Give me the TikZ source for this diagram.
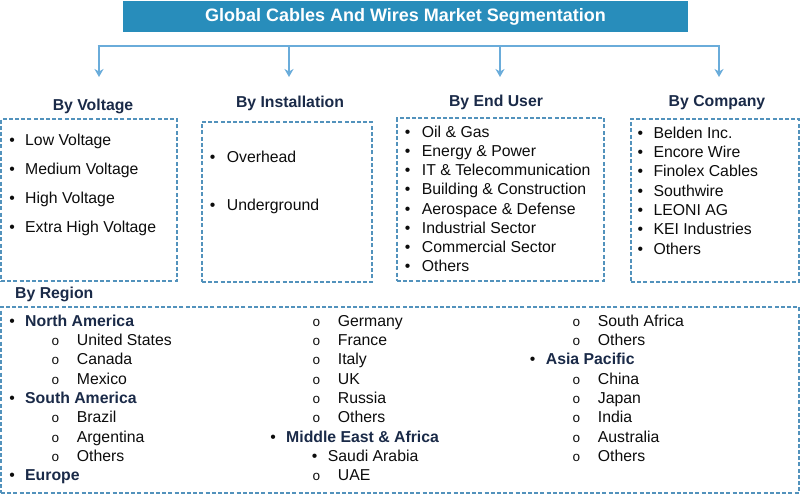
\documentclass[tikz,border=0pt]{standalone}
\usepackage{fontspec}
\setmainfont{Liberation Sans}
\newfontfamily\ringfont{Liberation Mono}
\usepackage{xcolor}
\usepackage{tikz}
\usetikzlibrary{arrows.meta,positioning}
\definecolor{segTeal}{RGB}{40,141,187}
\definecolor{segLine}{RGB}{106,172,218}
\definecolor{segDash}{RGB}{82,146,188}
\definecolor{segNavy}{RGB}{26,42,72}
\definecolor{segInk}{RGB}{12,12,12}

\tikzset{
  itemtxt/.style={anchor=west, inner sep=0pt, text height=11.3pt, text depth=0pt,
    text=segInk, font=\fontsize{15.8}{19}\selectfont},
  regmain/.style={itemtxt, text=segNavy, font=\fontsize{15.8}{19}\selectfont\bfseries},
  headtxt/.style={inner sep=0pt, text height=11.3pt, text depth=0pt,
    text=segNavy, font=\fontsize{15.8}{19}\selectfont\bfseries},
  dot/.style={itemtxt, anchor=east},
  ring/.style={itemtxt, anchor=east, font=\ringfont\fontsize{13.5}{15}\selectfont},
  frame/.style={draw=segDash, line width=1.2pt, dash pattern=on 4pt off 2.2pt},
  link/.style={draw=segLine, line width=2.6pt},
}

\begin{document}
\begin{tikzpicture}[x=1pt,y=-1pt]
\useasboundingbox (0,0) rectangle (800,495);

% title and the branches
\node[fill=segTeal, minimum width=565pt, minimum height=31pt, inner sep=0pt,
  text=white, font=\fontsize{18}{21}\selectfont\bfseries] (title) at (405.5,17) {Global Cables And Wires Market Segmentation};
\coordinate (barL) at (99,46);
\coordinate (barR) at (719,46);
\draw[link] ([xshift=-1.3pt]barL) -- ([xshift=1.3pt]barR);
\foreach \n/\x in {volt/99,inst/289,user/500,comp/719}{
  \coordinate (top\n) at (\x,46);
  \coordinate (tip\n) at (\x,77);
  \draw[link, -{Stealth[length=8pt,width=9pt,inset=2.5pt]}] (top\n) -- (tip\n);
}

% headings
\node[headtxt] (hvolt) at (93,104.5) {By Voltage};
\node[headtxt] (hinst) at (290,101.5) {By Installation};
\node[headtxt] (huser) at (496,100.5) {By End User};
\node[headtxt] (hcomp) at (717,100.5) {By Company};
\node[headtxt, anchor=west] (hreg) at (15,292.5) {By Region};

% dashed frames
\node[frame, minimum width=176pt, minimum height=162pt] (fvolt) at (89,200) {};
\node[frame, minimum width=170pt, minimum height=160pt] (finst) at (287,202) {};
\node[frame, minimum width=207pt, minimum height=163pt] (fuser) at (500.5,199.5) {};
\node[frame, minimum width=168pt, minimum height=163pt] (fcomp) at (715,200.5) {};
\node[frame, minimum width=798pt, minimum height=186pt] (freg) at (400,400) {};

% voltage
\foreach \t [count=\i] in {Low Voltage,Medium Voltage,High Voltage,Extra High Voltage}{
  \node[itemtxt] (volt\i) at (25,{140+29*(\i-1)}) {\t};
  \node[dot, left=10pt of volt\i] (voltb\i) {•};
}
% installation
\foreach \t/\y [count=\i] in {Overhead/156.7,Underground/205}{
  \node[itemtxt] (inst\i) at (226.7,\y) {\t};
  \node[dot, left=11pt of inst\i] (instb\i) {•};
}
% end user
\foreach \t [count=\i] in {Oil \& Gas,Energy \& Power,IT \& Telecommunication,Building \& Construction,
    Aerospace \& Defense,Industrial Sector,Commercial Sector,Others}{
  \node[itemtxt] (user\i) at (421.7,{131.7+19.2*(\i-1)}) {\t};
  \node[dot, left=11pt of user\i] (userb\i) {•};
}
% company
\foreach \t [count=\i] in {Belden Inc.,Encore Wire,Finolex Cables,Southwire,LEONI AG,KEI Industries,Others}{
  \node[itemtxt] (comp\i) at (653.3,{132.7+19.3*(\i-1)}) {\t};
  \node[dot, left=10pt of comp\i] (compb\i) {•};
}

% region
\foreach \t/\x/\r [count=\i] in {North America/25/0,South America/25/4,Europe/25/8,
    Middle East \& Africa/286/6,Asia Pacific/545.7/2}{
  \node[regmain] (reg\i) at (\x,{320.7+19.3*\r}) {\t};
  \node[dot, left=10pt of reg\i] (regb\i) {•};
}
\foreach \t/\x/\r [count=\i] in {United States/76.7/1,Canada/76.7/2,Mexico/76.7/3,
    Brazil/76.7/5,Argentina/76.7/6,Others/76.7/7,
    Germany/337.7/0,France/337.7/1,Italy/337.7/2,UK/337.7/3,Russia/337.7/4,Others/337.7/5,UAE/337.7/8,
    South Africa/597.7/0,Others/597.7/1,China/597.7/3,Japan/597.7/4,India/597.7/5,Australia/597.7/6,Others/597.7/7}{
  \node[itemtxt] (sub\i) at (\x,{320.7+19.3*\r}) {\t};
  \node[ring, left=17pt of sub\i] (subo\i) {o};
}
\node[itemtxt] (saudi) at (327.7,{320.7+19.3*7}) {Saudi Arabia};
\node[dot, left=10pt of saudi] (saudib) {•};
\end{tikzpicture}
\end{document}
